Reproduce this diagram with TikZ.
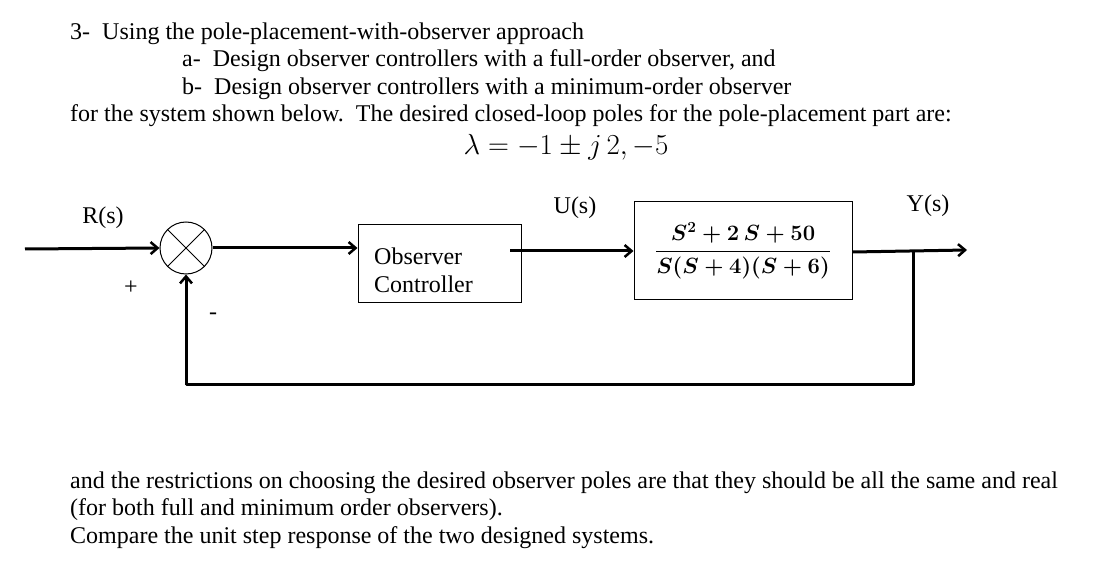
\RequirePackage{fix-cm}
\documentclass[tikz,border=0pt]{standalone}
\usepackage{amsmath}
\usepackage{fontspec}
\setmainfont{Liberation Serif}
\usetikzlibrary{arrows.meta}
\begin{document}
\begin{tikzpicture}[x=1pt,y=-1pt,
  txt/.style={anchor=base west,inner sep=0pt,font=\fontsize{24}{28}\selectfont},
  lbl/.style={inner sep=0pt,font=\fontsize{24}{28}\selectfont},
  blk/.style={draw,line width=1pt,inner sep=0pt},
  sig/.style={line width=3pt,-{Straight Barb[length=7pt,width=12pt,line width=2.5pt]}},
  wire/.style={line width=3pt}]
\useasboundingbox (0,0) rectangle (1117,577);
\node[txt] (t1) at (70,40) {3-\hspace{12pt}Using the pole-placement-with-observer approach};
\node[txt] (t2) at (182,67) {a-\hspace{12pt}Design observer controllers with a full-order observer, and};
\node[txt] (t3) at (182,95) {b-\hspace{12pt}Design observer controllers with a minimum-order observer};
\node[txt] (t4) at (70,122) {for the system shown below.\ \ The desired closed-loop poles for the pole-placement part are:};
\node[lbl,anchor=base,font=\fontsize{29}{33}\selectfont] (t5) at (566,155) {$\lambda=-1\pm j\,2,-5$};
\node[txt] (b1) at (70,488) {and the restrictions on choosing the desired observer poles are that they should be all the same and real};
\node[txt] (b2) at (70,515) {(for both full and minimum order observers).};
\node[txt] (b3) at (70,543) {Compare the unit step response of the two designed systems.};

\node[draw,circle,line width=1pt,minimum size=52pt,inner sep=0pt] (sum) at (186,248) {};
\draw[line width=1pt] (sum.north west)--(sum.south east) (sum.north east)--(sum.south west);
\node[blk,minimum width=163pt,minimum height=78pt] (ctl) at (439.5,264) {};
\node[lbl,align=left,anchor=west] at (374,270) {Observer\\Controller};
\node[blk,minimum width=218pt,minimum height=98pt] (plant) at (743,251) {\fontsize{22}{26}\selectfont$\boldsymbol{\dfrac{S^2+2\,S+50}{S(S+4)(S+6)}}$};
\coordinate (in) at (25,249);
\coordinate (out) at (967,250);
\coordinate (br) at (913,250);
\coordinate (bl) at (913,385);
\coordinate (lb) at (186,385);
\draw[sig] (in) -- (sum.west);
\draw[sig] (sum.east) -- (ctl.west|-sum.east);
\draw[sig] (510,251) -- (plant.west|-0,251);
\draw[sig] (plant.east|-0,252) -- (out);
\draw[wire,line join=round] (br) -- (bl) -- (lb) -- ++(0,-20);
\draw[sig] (lb) -- (sum.south);
\node[lbl] at (103,218) {R(s)};
\node[lbl] at (131,288) {+};
\node[lbl] at (213,316) {-};
\node[lbl] at (575,208) {U(s)};
\node[lbl] at (928,206) {Y(s)};
\end{tikzpicture}
\end{document}
